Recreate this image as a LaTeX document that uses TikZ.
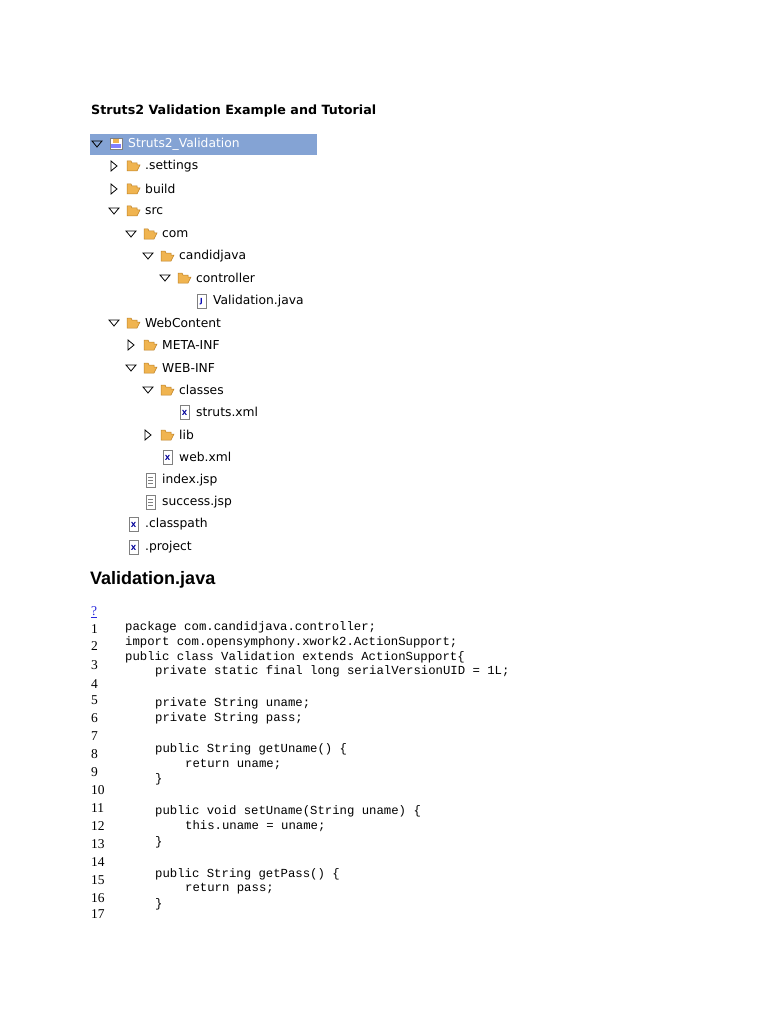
\documentclass[tikz,border=0pt]{standalone}
\usepackage{fontspec}
\setmainfont{DejaVu Sans}
\newfontfamily\codefont{Liberation Mono}
\newfontfamily\numfont{Liberation Serif}
\newfontfamily\headfont{Liberation Sans}
\definecolor{sel}{RGB}{132,163,212}
\definecolor{fold}{RGB}{240,180,80}
\definecolor{foldd}{RGB}{190,130,40}
\definecolor{lnk}{RGB}{40,40,220}
\begin{document}
\begin{tikzpicture}[x=1pt,y=-1pt,
  lbl/.style={anchor=west,inner sep=0,font=\fontsize{12.3}{12}\selectfont},
  code/.style={anchor=west,inner sep=0,font=\codefont\fontsize{12.3}{12}\selectfont},
  num/.style={anchor=west,inner sep=0,font=\numfont\fontsize{13.5}{13}\selectfont}]
\useasboundingbox (0,0) rectangle (768,1024);
\fill[white] (0,0) rectangle (768,1024);
\node[anchor=west,inner sep=0,font=\bfseries\fontsize{12.7}{13}\selectfont] (title) at (91,111) {Struts2 Validation Example and Tutorial};
\fill[sel] (90,134) rectangle (317,155);
\newcommand{\tclosed}[2]{\draw[black,line width=0.8] (#1-3,#2-5) -- (#1+3,#2) -- (#1-3,#2+5) -- cycle;}
\newcommand{\topen}[2]{\draw[black,line width=0.8] (#1-5,#2-3) -- (#1+5,#2-3) -- (#1,#2+3) -- cycle;}
\newcommand{\fldr}[2]{\fill[fold,draw=foldd,line width=0.5] (#1-6,#2-5) -- (#1-2,#2-5) -- (#1-1,#2-3) -- (#1+4,#2-3) -- (#1+4,#2-1) -- (#1+7,#2-1) -- (#1+4,#2+5) -- (#1-6,#2+5) -- cycle;}
\newcommand{\fil}[3]{\draw[gray,fill=white,line width=0.6] (#1-4,#2-7) rectangle (#1+5,#2+7); \node[inner sep=0,font=\bfseries\fontsize{7}{7}\selectfont,text=#3] at (#1+0.5,#2+1) {\ifx#3b J\else X\fi};}
\newcommand{\doc}[2]{\draw[gray,fill=white,line width=0.6] (#1-4,#2-7) rectangle (#1+5,#2+7); \foreach \k in {-3,0,3}{\draw[gray,line width=0.5] (#1-2,#2+\k) -- (#1+3,#2+\k);}}
\colorlet{b}{blue!70!black}
\colorlet{x}{blue!60!black}
\draw[black,line width=0.8] (92,141) -- (102,141) -- (97,147) -- cycle;
\fill[white,draw=gray] (110,138) rectangle (122,149);
\fill[blue!50] (111,144) rectangle (121,148);
\fill[fold] (113,139) rectangle (119,143);
\node[lbl,text=white] (root) at (128,144) {Struts2\_Validation};
\tclosed{114}{166}\fldr{133}{166}\node[lbl] (settings) at (145,166) {.settings};
\tclosed{114}{189}\fldr{133}{189}\node[lbl] (build) at (145,189) {build};
\topen{114}{211}\fldr{133}{211}\node[lbl] (src) at (145,211) {src};
\topen{131}{234}\fldr{150}{234}\node[lbl] (com) at (162,234) {com};
\topen{148}{256}\fldr{167}{256}\node[lbl] (cj) at (179,256) {candidjava};
\topen{165}{278}\fldr{184}{278}\node[lbl] (ctrl) at (196,278) {controller};
\fil{201}{301}{b}\node[lbl] (vj) at (213,301) {Validation.java};
\topen{114}{323}\fldr{133}{323}\node[lbl] (wc) at (145,323) {WebContent};
\tclosed{131}{345}\fldr{150}{345}\node[lbl] (meta) at (162,345) {META-INF};
\topen{131}{368}\fldr{150}{368}\node[lbl] (web) at (162,368) {WEB-INF};
\topen{148}{390}\fldr{167}{390}\node[lbl] (classes) at (179,390) {classes};
\fil{184}{412}{x}\node[lbl] (sx) at (196,412) {struts.xml};
\tclosed{148}{435}\fldr{167}{435}\node[lbl] (lib) at (179,435) {lib};
\fil{167}{457}{x}\node[lbl] (wx) at (179,457) {web.xml};
\doc{150}{480}\node[lbl] (ij) at (162,480) {index.jsp};
\doc{150}{502}\node[lbl] (sj) at (162,502) {success.jsp};
\fil{133}{524}{x}\node[lbl] (cp) at (145,524) {.classpath};
\fil{133}{547}{x}\node[lbl] (pr) at (145,547) {.project};
\node[anchor=west,inner sep=0,font=\headfont\bfseries\fontsize{18}{18}\selectfont] (h2) at (90,580) {Validation.java};
\node[num,text=lnk] (q) at (91,612) {\underline{?}};
\foreach \i [count=\n] in {629,646,665,684,700,718,736,754,772,790,808,826,844,862,880,898,914}{
  \node[num] (n\n) at (91,\i) {\n};}
\node[code] (c1) at (125,627) {package com.candidjava.controller;};
\node[code] (c2) at (125,642) {import com.opensymphony.xwork2.ActionSupport;};
\node[code] (c3) at (125,657) {public class Validation extends ActionSupport\{};
\node[code] (c4) at (155,671) {private static final long serialVersionUID = 1L;};
\node[code] (c5) at (155,703) {private String uname;};
\node[code] (c6) at (155,718) {private String pass;};
\node[code] (c7) at (155,749) {public String getUname() \{};
\node[code] (c8) at (185,764) {return uname;};
\node[code] (c9) at (155,779) {\}};
\node[code] (c10) at (155,811) {public void setUname(String uname) \{};
\node[code] (c11) at (185,826) {this.uname = uname;};
\node[code] (c12) at (155,842) {\}};
\node[code] (c13) at (155,874) {public String getPass() \{};
\node[code] (c14) at (185,889) {return pass;};
\node[code] (c15) at (155,904) {\}};
\end{tikzpicture}
\end{document}
